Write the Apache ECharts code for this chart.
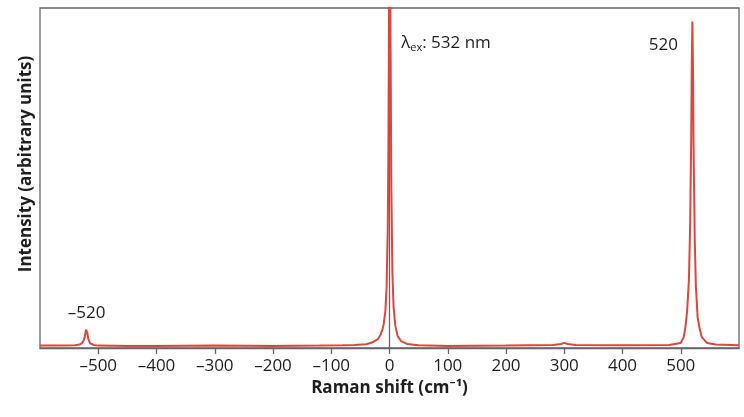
<!DOCTYPE html>
<html>
<head>
<meta charset="utf-8">
<script src="https://cdn.jsdelivr.net/npm/echarts@6/dist/echarts.min.js"></script>
<style>
  html, body { margin: 0; padding: 0; background: #fff; }
  #chart { width: 744px; height: 417px; }
</style>
</head>
<body>
<div id="chart"></div>
<script>
// Raman spectrum, values (intensity on a 0-100 scale)
var shift = [
  -600, -560, -540, -532, -528, -525, -523, -521, -520, -519, -517, -514, -508, -500,
  -450, -400, -300, -200, -120, -80, -60, -40, -30, -20, -15, -12, -10, -7, -5, -3, -2, -1,
  0, 1, 2, 3, 5, 7, 10, 14, 20, 30, 50, 100, 200, 280, 295, 300, 305, 320, 400,
  480, 500, 505, 508, 511, 514, 516, 518, 519, 520, 521, 522, 524, 526, 529, 532,
  536, 545, 560, 600
];
var intensity = [
  0.7, 0.7, 0.8, 1.0, 1.4, 2.2, 3.4, 5.4, 5.9, 4.6, 2.6, 1.4, 0.9, 0.7,
  0.6, 0.6, 0.7, 0.6, 0.7, 0.8, 0.9, 1.1, 1.6, 2.6, 4, 5.5, 7, 11, 18, 35, 55, 90,
  130, 130, 85, 50, 22, 12, 6.5, 3.5, 2.0, 1.2, 0.8, 0.6, 0.7, 0.9, 1.2, 1.5, 1.2, 0.9, 0.8,
  0.9, 1.5, 3.2, 6, 11, 20, 35, 62, 85, 96, 82, 60, 32, 18, 9, 6,
  3.2, 1.5, 1.0, 0.8
];
var xTicks = [-500, -400, -300, -200, -100, 0, 100, 200, 300, 400, 500];
// peak annotations: [x, y, text]
var notes = [
  [-520, 10.2, "\u2013520"],
  [97, 89.8, "{l|\u03BB}{s|ex}{l|: 532 nm}"],
  [470, 89.2, "520"]
];

var data = [];
for (var i = 0; i < shift.length; i++) {
    data.push([shift[i], intensity[i]]);
}

var font = "'Open Sans', 'Noto Sans', sans-serif";
var ink = "#1e1e1e";
var myChart = echarts.init(document.getElementById("chart"));
var options = {
    backgroundColor: "#fff",
    animation: false,
    textStyle: {fontFamily: font},
    grid: {
        left: 40, right: 5, top: 8, bottom: 69,
        show: true, borderColor: "#666", borderWidth: 1.3
    },
    xAxis: {
        type: "value",
        min: -600, max: 600, interval: 100,
        name: "Raman shift (cm\u207B\u00B9)",
        nameLocation: "middle",
        nameGap: 30,
        nameTextStyle: {fontSize: 17, fontWeight: "bold", color: ink, fontFamily: font},
        axisLine: {show: true, onZero: false, lineStyle: {color: "#666", width: 1.3}},
        axisTick: {show: true, customValues: xTicks, length: 6, lineStyle: {color: "#666", width: 1.3}},
        axisLabel: {
            customValues: xTicks,
            fontSize: 17, color: ink, margin: 10, fontFamily: font,
            formatter: function (v) { return String(v).replace("-", "\u2013"); }
        },
        splitLine: {show: false}
    },
    yAxis: {
        type: "value",
        min: 0, max: 100,
        name: "Intensity (arbitrary units)",
        nameLocation: "middle",
        nameGap: 5,
        nameTextStyle: {fontSize: 17, fontWeight: "bold", color: ink, fontFamily: font, padding: [0, 0, 0, 28]},
        axisLine: {show: true, lineStyle: {color: "#666", width: 1.3}},
        axisTick: {show: false},
        axisLabel: {show: false},
        splitLine: {show: false}
    },
    series: [{
        type: "line",
        data: data,
        showSymbol: false,
        clip: true,
        lineStyle: {color: "#e0453a", width: 2},
        z: 2
    }, {
        type: "scatter",
        data: notes,
        symbolSize: 0,
        silent: true,
        itemStyle: {opacity: 1, color: "transparent"},
        z: 3,
        label: {
            show: true, position: "inside", fontSize: 17, color: ink, fontFamily: font,
            formatter: function (p) { return p.value[2]; },
            rich: {
                l: {fontSize: 17, color: ink, fontFamily: font},
                s: {fontSize: 11, color: ink, fontFamily: font, verticalAlign: "bottom", padding: [10, 0, 0, 0]}
            }
        }
    }]
};
myChart.setOption(options);
</script>
</body>
</html>
